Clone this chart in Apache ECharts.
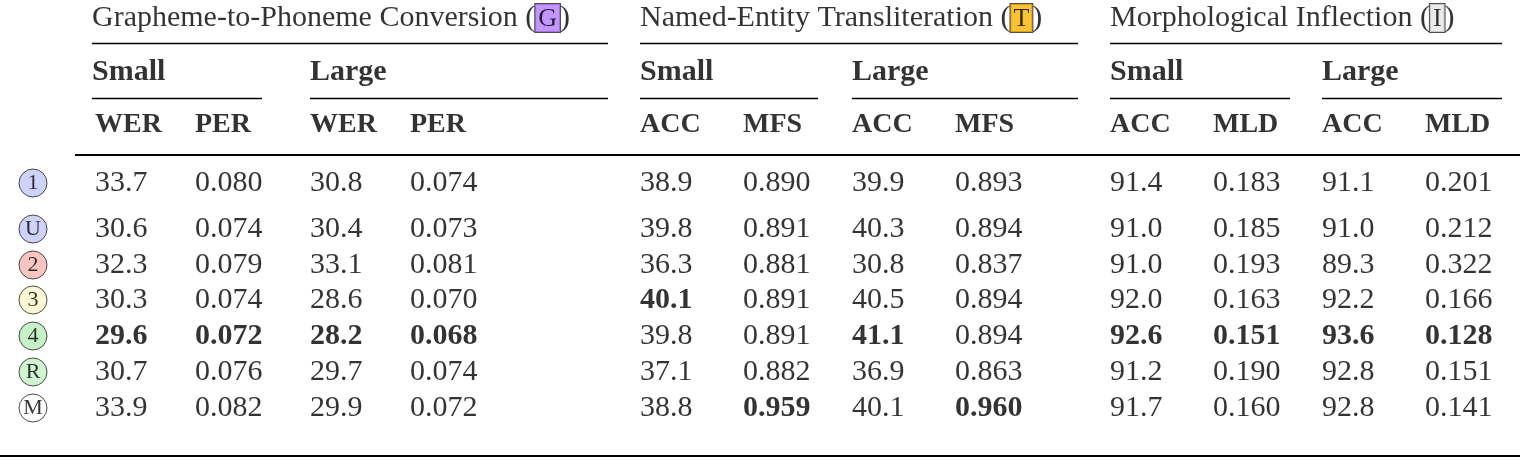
<!DOCTYPE html>
<html lang="en">
  <head>
    <meta charset="UTF-8" />
    <title>Results table</title>
    <script src="https://cdn.jsdelivr.net/npm/echarts@6.0.0/dist/echarts.min.js"></script>
    <style>
      html, body { margin: 0; padding: 0; background: #fff; }
    </style>
  </head>
  <body>
    <div id="main" style="width: 1523px; height: 460px"></div>
    <script type="text/javascript">
      // data
      let tasks = ["Grapheme-to-Phoneme Conversion", "Named-Entity Transliteration", "Morphological Inflection"];
      let taskTags = ["G", "T", "I"];
      let sizes = ["Small", "Large"];
      let metrics = ["WER", "PER", "WER", "PER", "ACC", "MFS", "ACC", "MFS", "ACC", "MLD", "ACC", "MLD"];
      let models = ["1", "U", "2", "3", "4", "R", "M"];
      let values = [
        ["33.7", "0.080", "30.8", "0.074", "38.9", "0.890", "39.9", "0.893", "91.4", "0.183", "91.1", "0.201"],
        ["30.6", "0.074", "30.4", "0.073", "39.8", "0.891", "40.3", "0.894", "91.0", "0.185", "91.0", "0.212"],
        ["32.3", "0.079", "33.1", "0.081", "36.3", "0.881", "30.8", "0.837", "91.0", "0.193", "89.3", "0.322"],
        ["30.3", "0.074", "28.6", "0.070", "40.1", "0.891", "40.5", "0.894", "92.0", "0.163", "92.2", "0.166"],
        ["29.6", "0.072", "28.2", "0.068", "39.8", "0.891", "41.1", "0.894", "92.6", "0.151", "93.6", "0.128"],
        ["30.7", "0.076", "29.7", "0.074", "37.1", "0.882", "36.9", "0.863", "91.2", "0.190", "92.8", "0.151"],
        ["33.9", "0.082", "29.9", "0.072", "38.8", "0.959", "40.1", "0.960", "91.7", "0.160", "92.8", "0.141"]
      ];
      // best value per column is bold: [row, col]
      let bold = [[4,0],[4,1],[4,2],[4,3],[3,4],[6,5],[4,6],[6,7],[4,8],[4,9],[4,10],[4,11]];

      // layout (pixel positions, axes map 1:1)
      let colX = [95, 195, 310, 410, 640, 743, 852, 955, 1110, 1213, 1322, 1425];
      let rowY = [183, 229, 265, 300, 336, 372, 408];
      let iconX = 33;
      let groupSpans = [[92, 608], [640, 1078], [1110, 1502]];
      let sizeSpans = [[92, 262], [310, 608], [640, 818], [852, 1078], [1110, 1290], [1322, 1502]];
      let modelColors = ["#c3c8f7", "#c3c8f7", "#f6b7b2", "#fdf5c9", "#b9efb9", "#c6f1c6", "#ffffff"];
      let tagColors = ["#b47cff", "#f8b400", "#e6e6e6"];
      let font = "Liberation Serif";

      let isBold = (r, c) => bold.some((b) => b[0] === r && b[1] === c);

      let cellData = [];
      values.forEach((row, r) => {
        row.forEach((v, c) => {
          cellData.push({
            value: [colX[c], rowY[r]],
            label: { formatter: v, fontWeight: isBold(r, c) ? "bold" : "normal" }
          });
        });
      });

      let headData = [];
      tasks.forEach((t, i) => {
        headData.push({
          value: [groupSpans[i][0], 18],
          label: { formatter: t + " ({t" + i + "|" + taskTags[i] + "})" }
        });
      });
      sizeSpans.forEach((s, i) => {
        headData.push({ value: [s[0], 72], label: { formatter: sizes[i % 2], fontWeight: "bold", fontSize: 30 } });
      });
      metrics.forEach((m, i) => {
        headData.push({ value: [colX[i], 125], label: { formatter: m, fontWeight: "bold", fontSize: 28 } });
      });

      let rich = {};
      tagColors.forEach((c, i) => {
        rich["t" + i] = {
          backgroundColor: c, borderColor: "#222", borderWidth: 1,
          padding: [2, 3, 0, 3], fontFamily: font, fontSize: 26, color: "#000"
        };
      });

      let lineData = [];
      groupSpans.forEach((s) => lineData.push({ coords: [[s[0], 43], [s[1], 43]] }));
      sizeSpans.forEach((s) => lineData.push({ coords: [[s[0], 98], [s[1], 98]] }));
      let thick = [
        { coords: [[75, 155], [1520, 155]] },
        { coords: [[0, 456], [1520, 456]] }
      ];

      let options = {
        animation: false,
        grid: { left: 0, right: 0, top: 0, bottom: 0 },
        xAxis: { type: "value", min: 0, max: 1523, show: false },
        yAxis: { type: "value", min: 0, max: 460, inverse: true, show: false },
        series: [
          {
            type: "scatter", symbolSize: 0, data: cellData.concat(headData),
            label: {
              show: true, position: "right", distance: 0,
              fontFamily: font, fontSize: 30, color: "#000", rich: rich
            }
          },
          {
            type: "scatter", symbol: "circle", symbolSize: 28,
            data: models.map((m, i) => ({
              value: [iconX, rowY[i]],
              itemStyle: { color: modelColors[i] },
              label: { formatter: m }
            })),
            itemStyle: { borderColor: "#222", borderWidth: 1 },
            label: { show: true, position: "inside", fontFamily: font, fontSize: 22, color: "#000" }
          },
          {
            type: "lines", coordinateSystem: "cartesian2d", data: lineData,
            lineStyle: { color: "#000", width: 1.3, opacity: 1 }
          },
          {
            type: "lines", coordinateSystem: "cartesian2d", data: thick,
            lineStyle: { color: "#000", width: 2.2, opacity: 1 }
          }
        ]
      };

      let myChart = echarts.init(document.getElementById("main"));
      myChart.setOption(options);
    </script>
  </body>
</html>
